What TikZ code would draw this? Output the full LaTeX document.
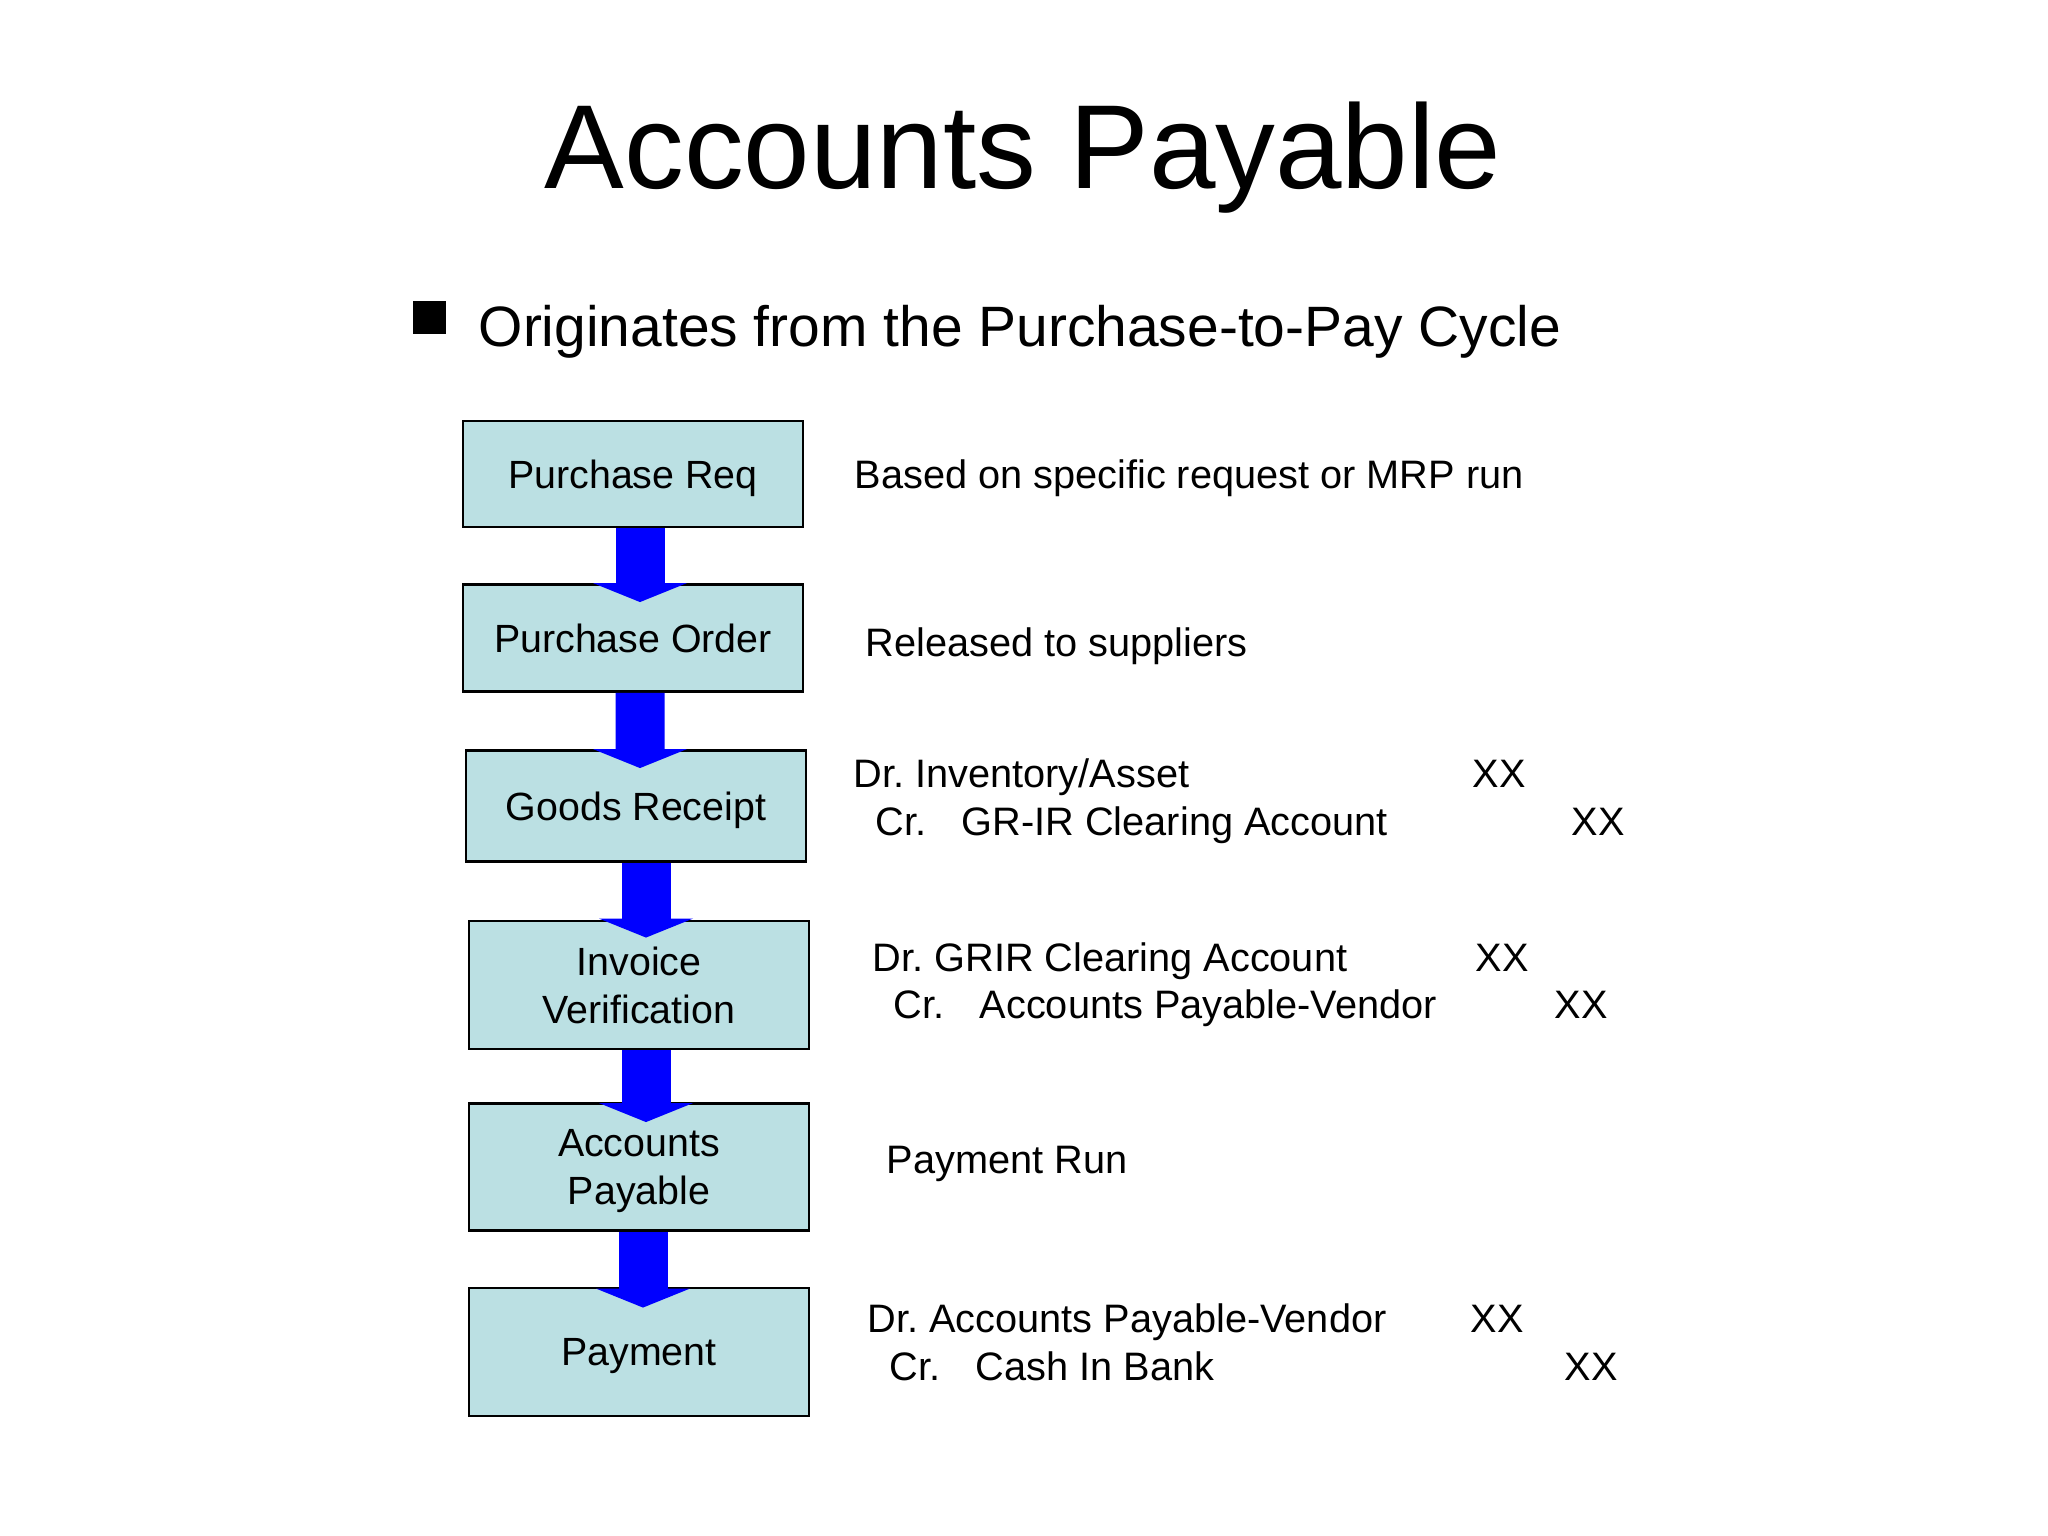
\documentclass[tikz,border=0pt]{standalone}
\usepackage{fontspec}
\setmainfont{Liberation Sans}
\usetikzlibrary{arrows.meta}
\definecolor{boxfill}{RGB}{187, 224, 227}
\definecolor{flowblue}{RGB}{0, 0, 255}

\begin{document}
\begin{tikzpicture}[
        flowbox/.style={draw=black, fill=boxfill, line width=0.8pt, minimum width=3.4cm, align=center, inner sep=0pt, text depth=0pt, font=\fontsize{11.2}{13.6}\selectfont},
        note/.style={anchor=base west, inner sep=0pt, font=\fontsize{11.3}{13.6}\selectfont},
        flow/.style={draw=flowblue, line width=0.49cm, -{Triangle[width=0.94cm, length=0.19cm, line width=0pt]}}
    ]
        \fill[white] (0, 0) rectangle (20.48, 15.36);
        \useasboundingbox (0, 0) rectangle (20.48, 15.36);

        % heading
        \node[anchor=base, font=\fontsize{34}{40}\selectfont] (title) at (10.23, 13.47) {Accounts Payable};
        \fill[black] (4.13, 12.02) rectangle (4.46, 12.35);
        \node[anchor=base west, inner sep=0pt, font=\fontsize{16.2}{19}\selectfont] (bullet) at (4.78, 11.89) {Originates from the Purchase-to-Pay Cycle};

        % cycle steps
        \node[flowbox, minimum height=1.06cm] (req) at (6.33, 10.62) {Purchase Req};
        \node[flowbox, minimum height=1.07cm] (order) at (6.33, 8.98) {Purchase Order};
        \node[flowbox, minimum height=1.11cm] (receipt) at (6.36, 7.30) {Goods Receipt};
        \node[flowbox, minimum height=1.28cm] (invoice) at (6.39, 5.51) {Invoice\\Verification};
        \node[flowbox, minimum height=1.27cm] (payable) at (6.39, 3.69) {Accounts\\Payable};
        \node[flowbox, minimum height=1.28cm] (payment) at (6.39, 1.84) {Payment};

        \draw[flow] ([xshift=0.07cm]req.south) -- ([xshift=0.07cm, yshift=-0.19cm]order.north);
        \draw[flow] ([xshift=0.07cm]order.south) -- ([xshift=0.04cm, yshift=-0.19cm]receipt.north);
        \draw[flow] ([xshift=0.10cm]receipt.south) -- ([xshift=0.07cm, yshift=-0.18cm]invoice.north);
        \draw[flow] ([xshift=0.07cm]invoice.south) -- ([xshift=0.07cm, yshift=-0.20cm]payable.north);
        \draw[flow] ([xshift=0.04cm]payable.south) -- ([xshift=0.04cm, yshift=-0.21cm]payment.north);

        % postings
        \node[note] (reqnote) at (8.54, 10.47) {Based on specific request or MRP run};
        \node[note] (ordernote) at (8.65, 8.79) {Released to suppliers};
        \node[note] (receiptdr) at (8.53, 7.48) {Dr.\ Inventory/Asset};
        \node[note] (receiptdrxx) at (14.72, 7.48) {XX};
        \node[note] (receiptcr) at (8.75, 7.00) {Cr.\hspace{0.89em}GR-IR Clearing Account};
        \node[note] (receiptcrxx) at (15.71, 7.00) {XX};
        \node[note] (invoicedr) at (8.72, 5.64) {Dr.\ GRIR Clearing Account};
        \node[note] (invoicedrxx) at (14.75, 5.64) {XX};
        \node[note] (invoicecr) at (8.93, 5.17) {Cr.\hspace{0.89em}Accounts Payable-Vendor};
        \node[note] (invoicecrxx) at (15.54, 5.17) {XX};
        \node[note] (payablenote) at (8.86, 3.62) {Payment Run};
        \node[note] (paymentdr) at (8.67, 2.03) {Dr.\ Accounts Payable-Vendor};
        \node[note] (paymentdrxx) at (14.70, 2.03) {XX};
        \node[note] (paymentcr) at (8.89, 1.55) {Cr.\hspace{0.89em}Cash In Bank};
        \node[note] (paymentcrxx) at (15.64, 1.55) {XX};
    \end{tikzpicture}
\end{document}
